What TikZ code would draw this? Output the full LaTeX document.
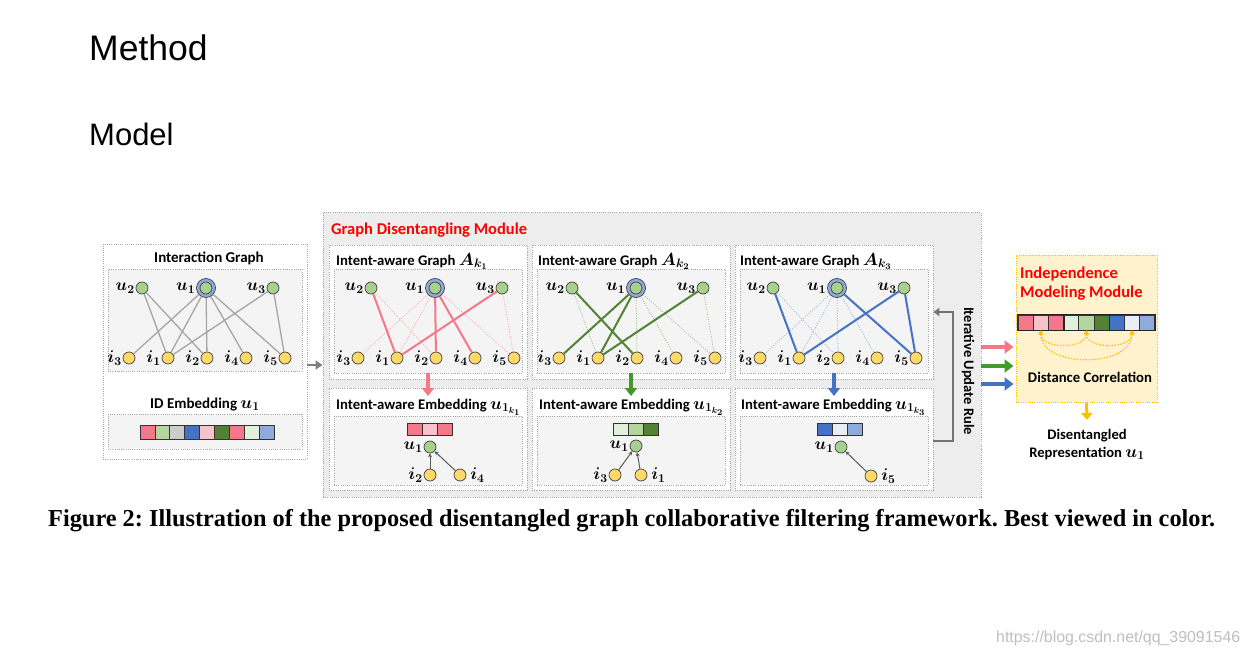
\RequirePackage{fix-cm}
\documentclass[tikz,border=0pt]{standalone}
\usepackage{fontspec}
\usepackage{amsmath,bm,graphicx}
\setmainfont{Carlito}
\newfontfamily\arialf{Liberation Sans}
\newfontfamily\serf{Liberation Serif}
\usetikzlibrary{arrows.meta,calc}
\definecolor{pk}{HTML}{F4788A}
\definecolor{lpk}{HTML}{F8C2CA}
\definecolor{gD}{HTML}{548235}
\definecolor{gL}{HTML}{B4D59E}
\definecolor{gVL}{HTML}{E2EFDA}
\definecolor{bD}{HTML}{4472C4}
\definecolor{bL}{HTML}{8FAADC}
\definecolor{bVL}{HTML}{E9EDF4}
\definecolor{gyc}{HTML}{CCCCCC}
\definecolor{ugreen}{HTML}{A9D18E}
\definecolor{iyel}{HTML}{FFD966}
\definecolor{panelgray}{HTML}{F4F4F4}
\definecolor{modgray}{HTML}{EDEDED}
\definecolor{ylw}{HTML}{FFF2CC}
\definecolor{org}{HTML}{FFC000}
\definecolor{bord}{HTML}{A6A6A6}
\definecolor{redt}{HTML}{FF0000}
\newcommand\mth[1]{$\bm{#1}$}
\newcommand\tmth[1]{{\fontsize{17.5}{18}\selectfont$\bm{#1}$}}
\tikzset{
 dotbox/.style={draw=bord, line width=0.9pt, dash pattern=on 0.9pt off 1.3pt},
 panel/.style={dotbox, fill=white, inner sep=0, rectangle},
 inbox/.style={dotbox, fill=panelgray, inner sep=0, rectangle},
 user/.style={circle, fill=ugreen, draw=black!75, line width=0.7pt, minimum size=12pt, inner sep=0},
 item/.style={circle, fill=iyel, draw=black!75, line width=0.7pt, minimum size=12pt, inner sep=0},
 ring/.style={circle, fill=bL, draw=black!75, line width=0.7pt, minimum size=19pt, inner sep=0},
 lab/.style={font=\fontsize{17}{17}\selectfont, inner sep=0.8pt},
 rlab/.style={lab, label distance=3pt},
 ttl/.style={font=\fontsize{14.7}{16}\selectfont\bfseries, inner sep=0},
 cell/.style={rectangle, draw=black!80, line width=0.8pt, minimum width=15pt, minimum height=14pt, inner sep=0},
 gedge/.style={draw=bord, line width=1.3pt},
 sedge/.style={draw=#1, line width=2pt},
 fedge/.style={draw=#1, line width=0.9pt, dash pattern=on 1pt off 1.5pt},
 darr/.style={draw=#1, line width=3.5pt, -{Triangle[length=8pt,width=12pt]}},
 carr/.style={draw=#1, line width=4pt, shorten >=2pt, -{Triangle[length=9pt,width=13pt]}},
 earr/.style={draw=black!65, line width=1pt, -{Stealth[length=4pt,width=4pt]}},
 iter/.style={draw=black!55, line width=2pt, -{Triangle[length=6pt,width=8pt]}},
 darc/.style={draw=org, line width=1.2pt, dash pattern=on 1.5pt off 1.5pt, {Triangle[length=4pt,width=5pt]}-{Triangle[length=4pt,width=5pt]}},
}
\newcommand\ugraph[2]{%
\begin{scope}[shift={(#2,0)}]
 \node[ring, label={[lab]left:{\mth{u_1}}}] (#1r) at (206,288) {};
 \node[user] (#1u1) at (206,288) {};
 \node[user, label={[lab]left:{\mth{u_2}}}] (#1u2) at (142,288) {};
 \node[user, label={[lab]left:{\mth{u_3}}}] (#1u3) at (273,288) {};
 \node[item, label={[lab]left:{\mth{i_3}}}] (#1i3) at (129,358) {};
 \node[item, label={[lab]left:{\mth{i_1}}}] (#1i1) at (168,358) {};
 \node[item, label={[lab]left:{\mth{i_2}}}] (#1i2) at (207,358) {};
 \node[item, label={[lab]left:{\mth{i_4}}}] (#1i4) at (246,358) {};
 \node[item, label={[lab]left:{\mth{i_5}}}] (#1i5) at (285,358) {};
\end{scope}}
\begin{document}
\begin{tikzpicture}[x=1pt,y=-1pt]
\path[use as bounding box, fill=white] (0,0) rectangle (1250,655);

% headings
\node[anchor=base west, inner sep=0, font=\arialf\fontsize{35.5}{40}\selectfont] (meth) at (89,61) {Method};
\node[anchor=base west, inner sep=0, font=\arialf\fontsize{31}{36}\selectfont] (model) at (89,146) {Model};

% ---- left panel
\node[panel, minimum width=204pt, minimum height=215pt] (IG) at (205,351.5) {};
\node[inbox, minimum width=194pt, minimum height=102pt] (IGin) at (205,320) {};
\node[inbox, minimum width=194pt, minimum height=35pt] (IDin) at (205,431.5) {};
\node[ttl, anchor=base, font=\fontsize{15}{16}\selectfont\bfseries] (IGt) at (209,262) {Interaction Graph};
\node[ttl, anchor=base, font=\fontsize{15}{16}\selectfont\bfseries] (IDt) at (205,408) {ID Embedding \tmth{u_1}};
\ugraph{g}{0}
\foreach \a/\b in {u2/i1,u2/i2,r/i3,r/i1,r/i2,r/i4,r/i5,u3/i1,u3/i5}
  \draw[gedge] (g\a) -- (g\b);
\foreach \c [count=\k] in {pk,gL,gyc,bD,lpk,gD,pk,gVL,bL}
  \node[cell, fill=\c, minimum width=14.9pt] (id\k) at ({140+14.9*(\k-0.5)},432.5) {};

% ---- graph disentangling module
\node[dotbox, fill=modgray, minimum width=658pt, minimum height=285pt, inner sep=0] (GDM) at (652,354.5) {};
\node[ttl, text=redt, anchor=base west, font=\fontsize{16.5}{18}\selectfont\bfseries] (GDMt) at (331,234.5) {Graph Disentangling Module};
\draw[draw=black!50, line width=2.5pt, -{Triangle[length=7pt,width=9pt]}] ([yshift=-13.5pt]IG.east) -- ([yshift=-13.5pt]IG.east -| GDM.west);

\foreach \p/\cx in {1/428,2/631,3/834}{
  \node[panel, minimum width=198pt, minimum height=134pt] (P\p) at (\cx,312) {};
  \node[inbox, minimum width=188pt, minimum height=104pt] (Pin\p) at (\cx,321) {};
  \node[panel, minimum width=198pt, minimum height=102pt] (E\p) at (\cx,439) {};
  \node[inbox, minimum width=188pt, minimum height=69pt] (Ein\p) at (\cx,450.5) {};
  \coordinate (t\p) at (\cx,396);
}
\node[ttl, anchor=base west] (P1t) at (336,265) {Intent-aware Graph \tmth{A_{k_1}}};
\node[ttl, anchor=base west] (P2t) at (538,265) {Intent-aware Graph \tmth{A_{k_2}}};
\node[ttl, anchor=base west] (P3t) at (740,265) {Intent-aware Graph \tmth{A_{k_3}}};
\node[ttl, anchor=base west] (E1t) at (336,409) {Intent-aware Embedding \tmth{u_{1_{k_1}}}};
\node[ttl, anchor=base west] (E2t) at (539,409) {Intent-aware Embedding \tmth{u_{1_{k_2}}}};
\node[ttl, anchor=base west] (E3t) at (741,409) {Intent-aware Embedding \tmth{u_{1_{k_3}}}};

\draw[darr=pk] (Pin1.south) -- (t1);
\draw[darr=gD!85!green] (Pin2.south) -- (t2);
\draw[darr=bD] (Pin3.south) -- (t3);

% graphs
\ugraph{a}{229}
\ugraph{b}{430}
\ugraph{c}{631}
\foreach \a/\b in {u2/i2,r/i3,r/i1,r/i5,u3/i5} \draw[fedge=pk!60] (a\a) -- (a\b);
\foreach \a/\b in {u2/i1,r/i2,r/i4,u3/i1} \draw[sedge=pk] (a\a) -- (a\b);
\foreach \a/\b in {u2/i1,r/i2,r/i4,r/i5,u3/i5} \draw[fedge=gD!50] (b\a) -- (b\b);
\foreach \a/\b in {u2/i2,r/i3,r/i1,u3/i1} \draw[sedge=gD] (b\a) -- (b\b);
\foreach \a/\b in {u2/i2,r/i3,r/i1,r/i2,r/i4} \draw[fedge=bD!50] (c\a) -- (c\b);
\foreach \a/\b in {u2/i1,r/i5,u3/i1,u3/i5} \draw[sedge=bD] (c\a) -- (c\b);

% embeddings
\foreach \c [count=\k] in {pk,lpk,pk}
  \node[cell, minimum height=12pt, fill=\c] (ea\k) at ({407+15*(\k-0.5)},429) {};
\foreach \c [count=\k] in {gVL,gL,gD}
  \node[cell, minimum height=12pt, fill=\c] (eb\k) at ({613+15*(\k-0.5)},429) {};
\foreach \c [count=\k] in {bD,bVL,bL}
  \node[cell, minimum height=12pt, fill=\c] (ec\k) at ({817+15*(\k-0.5)},429) {};

\node[user, label={[lab]left:{\mth{u_1}}}] (eau1) at (430,447) {};
\node[item, label={[lab]left:{\mth{i_2}}}] (eai2) at (430,475) {};
\node[item, label={[rlab]right:{\mth{i_4}}}] (eai4) at (460,475) {};
\draw[earr] (eai2) -- (eau1);
\draw[earr] (eai4) -- (eau1);

\node[user, label={[lab]left:{\mth{u_1}}}] (ebu1) at (636,446) {};
\node[item, label={[lab]left:{\mth{i_3}}}] (ebi3) at (615,475) {};
\node[item, label={[rlab]right:{\mth{i_1}}}] (ebi1) at (641,475) {};
\draw[earr] (ebi3) -- (ebu1);
\draw[earr] (ebi1) -- (ebu1);

\node[user, label={[lab]left:{\mth{u_1}}}] (ecu1) at (841,447) {};
\node[item, label={[rlab]right:{\mth{i_5}}}] (eci5) at (871,476) {};
\draw[earr] (eci5) -- (ecu1);

% iterative update rule
\draw[iter] ([yshift=-2pt]E3.east) -- ++(20,0) |- (P3.east);
\node[ttl, rotate=-90, font=\fontsize{14.5}{16}\selectfont\bfseries] (IUR) at (968,371) {Iterative Update Rule};

% ---- independence modeling module
\node[draw=org, line width=1pt, dash pattern=on 1pt off 1.3pt, fill=ylw, minimum width=141pt, minimum height=147pt, inner sep=0] (IMM) at (1086.5,328.5) {};
\node[anchor=west, align=left, inner sep=0, text=redt, font=\fontsize{16.5}{19.5}\selectfont\bfseries] (IMMt) at (1020,283.5) {Independence\\Modeling Module};
\foreach \c [count=\k] in {pk,lpk,pk,gVL,gL,gD,bD,bVL,bL}
  \node[cell, fill=\c, minimum width=15.2pt, minimum height=15pt] (b\k) at ({1018+15.2*(\k-0.5)},322.5) {};
\draw[draw=black!85, line width=1.2pt] (b1.north west) rectangle (b9.south east);
\draw[draw=black!85, line width=1.2pt] (b3.north east) -- (b3.south east) (b6.north east) -- (b6.south east);
\draw[darc] (b2.south) .. controls ($(b2.south)+(0,19)$) and ($(b5.south)+(0,19)$) .. (b5.south);
\draw[darc] (b5.south) .. controls ($(b5.south)+(0,19)$) and ($(b8.south)+(0,19)$) .. (b8.south);
\draw[darc] (b2.south) .. controls ($(b2.south)+(0,38)$) and ($(b8.south)+(0,38)$) .. (b8.south);
\node[ttl, anchor=base, font=\fontsize{14.7}{16}\selectfont\bfseries] (DC) at (1090,382) {Distance Correlation};

\draw[carr=pk] ([yshift=7.5pt]GDM.east) -- ([yshift=7.5pt]GDM.east -| IMM.west);
\draw[carr=gD!80!green] ([yshift=-11.5pt]GDM.east) -- ([yshift=-11.5pt]GDM.east -| IMM.west);
\draw[carr=bD] ([yshift=-29.5pt]GDM.east) -- ([yshift=-29.5pt]GDM.east -| IMM.west);

\coordinate (dr) at (1087,420);
\draw[draw=org, line width=3pt, -{Triangle[length=7pt,width=11pt]}] (IMM.south) -- (dr);
\node[anchor=base, align=center, inner sep=0, font=\fontsize{14.6}{18}\selectfont\bfseries] (DR) at (1087,457) {Disentangled\\Representation \tmth{u_1}};

% caption
\node[anchor=base west, inner sep=0] (cap) at (48,526) {\resizebox{1167pt}{!}{\serf\bfseries\frenchspacing\fontsize{22}{26}\selectfont Figure 2: Illustration of the proposed disentangled graph collaborative filtering framework. Best viewed in color.}};

% watermark
\node[anchor=base west, inner sep=0, text=black!25] (wm) at (996,642) {\resizebox{244pt}{!}{\arialf\fontsize{13.5}{16}\selectfont https://blog.csdn.net/qq\_39091546}};
\end{tikzpicture}
\end{document}
